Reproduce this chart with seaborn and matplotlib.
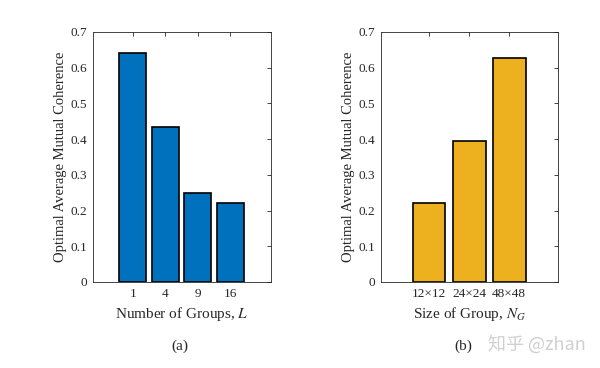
import seaborn as sns
import matplotlib.pyplot as plt
import pandas as pd

groups = ['1', '4', '9', '16']
coh_groups = [0.641, 0.433, 0.248, 0.222]
sizes = ['12×12', '24×24', '48×48']
coh_sizes = [0.222, 0.395, 0.627]

sns.set_theme(style='white')
plt.rcParams['font.family'] = ['Liberation Serif', 'Noto Sans CJK SC', 'DejaVu Sans']
plt.rcParams['mathtext.fontset'] = 'stix'

fig = plt.figure(figsize=(6, 3.68), dpi=100)
ax1 = fig.add_axes([93 / 600, 1 - 282 / 368, 178 / 600, 250 / 368])
ax2 = fig.add_axes([381 / 600, 1 - 282 / 368, 177 / 600, 250 / 368])

df1 = pd.DataFrame({'g': groups, 'v': coh_groups})
df2 = pd.DataFrame({'g': sizes, 'v': coh_sizes})

sns.barplot(data=df1, x='g', y='v', ax=ax1, color='#0072BD', saturation=1,
            width=0.83, edgecolor='black', linewidth=1.2)
sns.barplot(data=df2, x='g', y='v', ax=ax2, color='#EDB120', saturation=1,
            width=0.82, edgecolor='black', linewidth=1.2)

ax1.set_xlim(-1.23, 3 + 1.26)
ax2.set_xlim(-1.2, 2 + 1.22)
ax1.set_xlabel('Number of Groups, $L$', fontsize=11)
ax2.set_xlabel('Size of Group, $N_G$', fontsize=11)

for ax in (ax1, ax2):
    ax.set_ylim(0, 0.7)
    ax.set_yticks([0, 0.1, 0.2, 0.3, 0.4, 0.5, 0.6, 0.7])
    ax.set_yticklabels(['0', '0.1', '0.2', '0.3', '0.4', '0.5', '0.6', '0.7'])
    ax.set_ylabel('Optimal Average Mutual Coherence', fontsize=10.5, labelpad=3)
    ax.tick_params(direction='in', top=True, right=True, length=3,
                   width=0.6, color='#262626', labelsize=9.5, labelcolor='#262626',
                   pad=4)
    for s in ax.spines.values():
        s.set_visible(True)
        s.set_color('#262626')
        s.set_linewidth(0.6)

fig.text(180 / 600, 1 - 346 / 368, '(a)', ha='center', va='center', fontsize=11)
fig.text(463 / 600, 1 - 346 / 368, '(b)', ha='center', va='center', fontsize=11)
fig.text(537 / 600, 1 - 344 / 368, '知乎 @zhan', ha='center', va='center',
         fontsize=13, color='#d0d0d0', family=['Noto Sans CJK SC', 'DejaVu Sans'])

fig.savefig('out.png', dpi=100)
